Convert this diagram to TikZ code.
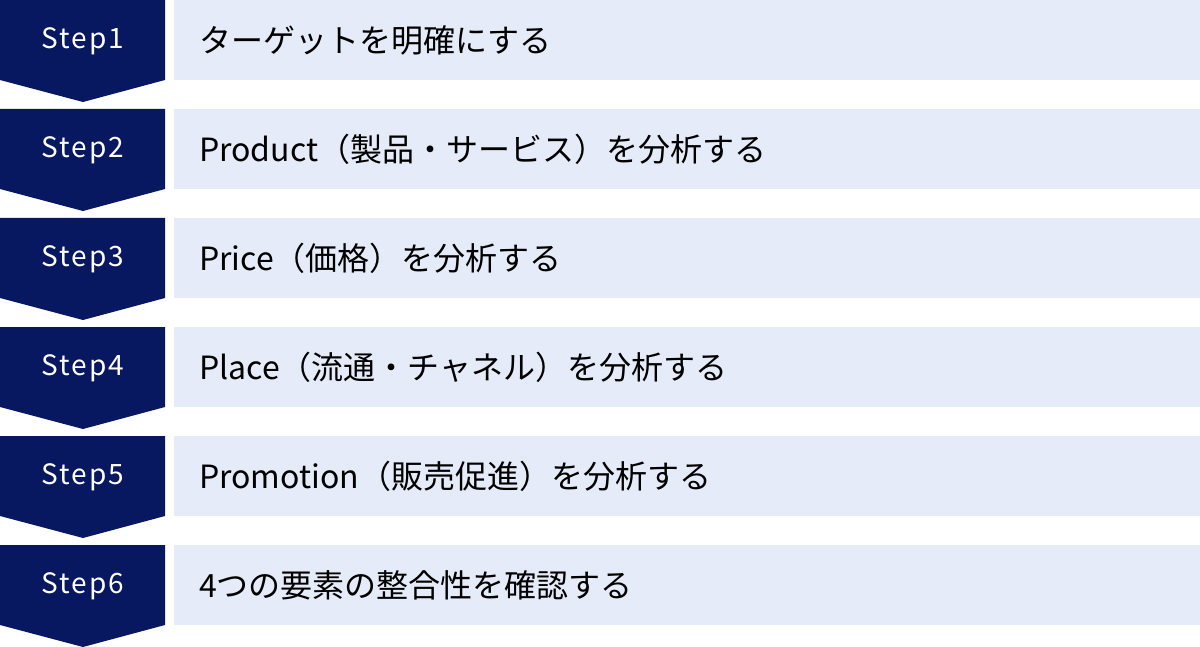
\documentclass[tikz,border=0pt]{standalone}
\usepackage{fontspec}
\setmainfont{Noto Sans CJK JP}
\newfontfamily\stepfont[LetterSpace=7]{Noto Sans CJK JP}
\definecolor{navy}{HTML}{081860}
\definecolor{barblue}{HTML}{E5EBF8}
\begin{document}
\begin{tikzpicture}[x=1pt,y=-1pt,
  chev/.style={fill=navy,draw=none},
  bar/.style={fill=barblue,draw=none},
  steplbl/.style={text=white,font=\stepfont\fontsize{28}{32}\selectfont,anchor=center,inner sep=0pt},
  maintxt/.style={text=black,font=\fontsize{32}{38}\selectfont,anchor=west,inner sep=0pt}]
\useasboundingbox (0,0) rectangle (1200,647);
\foreach \i/\t in {0/{ターゲットを明確にする},1/{Product（製品・サービス）を分析する},2/{Price（価格）を分析する},3/{Place（流通・チャネル）を分析する},4/{Promotion（販売促進）を分析する},5/{4つの要素の整合性を確認する}}{
  \pgfmathsetmacro{\yy}{\i*109}
  \fill[chev] (0,\yy) -- (165,\yy) -- (165,\yy+80) -- (83,\yy+102) -- (0,\yy+80) -- cycle;
  \fill[bar] (174,\yy) rectangle (1200,\yy+80);
  \pgfmathtruncatemacro{\n}{\i+1}
  \node[steplbl] (s\n) at (83,\yy+41) {Step\n};
  \node[maintxt] (t\n) at (199,\yy+40) {\t};
}
\end{tikzpicture}
\end{document}
